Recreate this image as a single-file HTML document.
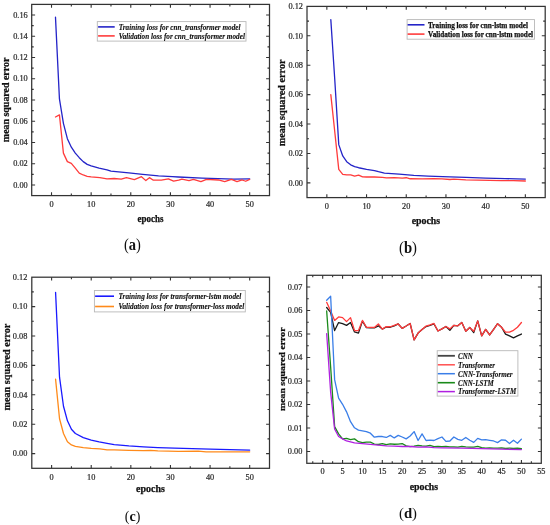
<!DOCTYPE html>
<html><head><meta charset="utf-8"><title>Loss curves</title>
<style>html,body{margin:0;padding:0;background:#fff;width:550px;height:525px;overflow:hidden} svg{display:block}</style>
</head><body>
<svg width="550" height="525" viewBox="0 0 550 525">
<style>text{font-family:"Liberation Serif", "Times New Roman", serif;fill:#222} .tl{fill:#2a2a2a;stroke:#2a2a2a;stroke-width:0.22px} .bt{font-weight:bold;fill:#111;stroke:#111;stroke-width:0.25px} .bi{font-weight:bold;font-style:italic;fill:#111;stroke:#111;stroke-width:0.12px} .pl{fill:#111} .pl tspan{font-weight:bold}</style>
<rect width="550" height="525" fill="#fff"/>
<path d="M51.52 195.60V192.20M51.52 4.40V7.80M71.33 195.60V193.60M71.33 4.40V6.40M91.15 195.60V192.20M91.15 4.40V7.80M110.97 195.60V193.60M110.97 4.40V6.40M130.78 195.60V192.20M130.78 4.40V7.80M150.60 195.60V193.60M150.60 4.40V6.40M170.42 195.60V192.20M170.42 4.40V7.80M190.23 195.60V193.60M190.23 4.40V6.40M210.05 195.60V192.20M210.05 4.40V7.80M229.87 195.60V193.60M229.87 4.40V6.40M249.68 195.60V192.20M249.68 4.40V7.80M31.70 184.98H35.10M269.50 184.98H266.10M31.70 174.36H33.70M269.50 174.36H267.50M31.70 163.73H35.10M269.50 163.73H266.10M31.70 153.11H33.70M269.50 153.11H267.50M31.70 142.49H35.10M269.50 142.49H266.10M31.70 131.87H33.70M269.50 131.87H267.50M31.70 121.24H35.10M269.50 121.24H266.10M31.70 110.62H33.70M269.50 110.62H267.50M31.70 100.00H35.10M269.50 100.00H266.10M31.70 89.38H33.70M269.50 89.38H267.50M31.70 78.76H35.10M269.50 78.76H266.10M31.70 68.13H33.70M269.50 68.13H267.50M31.70 57.51H35.10M269.50 57.51H266.10M31.70 46.89H33.70M269.50 46.89H267.50M31.70 36.27H35.10M269.50 36.27H266.10M31.70 25.64H33.70M269.50 25.64H267.50M31.70 15.02H35.10M269.50 15.02H266.10" stroke="#333" stroke-width="1.1" fill="none"/>
<rect x="31.70" y="4.40" width="237.80" height="191.20" fill="none" stroke="#333" stroke-width="1.25"/>
<text x="51.52" y="206.80" text-anchor="middle" class="tl" font-size="8.3">0</text>
<text x="91.15" y="206.80" text-anchor="middle" class="tl" font-size="8.3">10</text>
<text x="130.78" y="206.80" text-anchor="middle" class="tl" font-size="8.3">20</text>
<text x="170.42" y="206.80" text-anchor="middle" class="tl" font-size="8.3">30</text>
<text x="210.05" y="206.80" text-anchor="middle" class="tl" font-size="8.3">40</text>
<text x="249.68" y="206.80" text-anchor="middle" class="tl" font-size="8.3">50</text>
<text x="27.70" y="187.68" text-anchor="end" class="tl" font-size="8.3">0.00</text>
<text x="27.70" y="166.43" text-anchor="end" class="tl" font-size="8.3">0.02</text>
<text x="27.70" y="145.19" text-anchor="end" class="tl" font-size="8.3">0.04</text>
<text x="27.70" y="123.94" text-anchor="end" class="tl" font-size="8.3">0.06</text>
<text x="27.70" y="102.70" text-anchor="end" class="tl" font-size="8.3">0.08</text>
<text x="27.70" y="81.46" text-anchor="end" class="tl" font-size="8.3">0.10</text>
<text x="27.70" y="60.21" text-anchor="end" class="tl" font-size="8.3">0.12</text>
<text x="27.70" y="38.97" text-anchor="end" class="tl" font-size="8.3">0.14</text>
<text x="27.70" y="17.72" text-anchor="end" class="tl" font-size="8.3">0.16</text>
<polyline points="55.48,17.15 59.44,98.94 63.41,123.37 67.37,138.66 71.33,147.16 75.30,153.11 79.26,157.68 83.22,161.61 87.19,164.37 91.15,165.86 99.08,168.19 107.00,169.79 110.97,171.17 128.80,172.87 142.67,174.36 158.53,175.84 172.40,176.69 178.34,177.01 202.12,178.07 233.83,179.03 249.68,178.82" fill="none" stroke="#2424c8" stroke-width="1.3" stroke-linejoin="round" stroke-linecap="round"/>
<polyline points="55.48,117.00 59.44,114.87 63.41,153.11 67.37,161.61 71.33,163.41 75.30,168.19 79.26,173.08 83.22,174.99 87.19,176.27 91.15,176.90 99.87,177.65 107.00,178.82 114.14,178.50 121.27,179.14 126.42,177.65 134.35,179.56 141.48,176.69 145.84,180.62 149.41,177.65 153.37,180.20 161.30,180.20 168.43,178.82 173.59,181.05 178.74,180.20 181.91,179.03 189.04,180.52 193.40,179.35 200.93,181.68 206.48,179.35 218.37,179.99 224.71,181.68 231.45,179.35 237.00,181.68 242.15,179.99 245.72,181.26 249.68,179.35" fill="none" stroke="#ff3b3b" stroke-width="1.3" stroke-linejoin="round" stroke-linecap="round"/>
<rect x="97.30" y="21.60" width="148.70" height="19.50" fill="#fff" stroke="#b8b8b8" stroke-width="0.9"/>
<line x1="98.10" y1="26.90" x2="114.70" y2="26.90" stroke="#2424c8" stroke-width="1.6"/>
<text x="118.70" y="29.70" class="bi" font-size="7.4" text-anchor="start" textLength="121.80" lengthAdjust="spacingAndGlyphs">Training loss for cnn_transformer model</text>
<line x1="98.10" y1="35.90" x2="114.70" y2="35.90" stroke="#ff3b3b" stroke-width="1.6"/>
<text x="118.70" y="38.70" class="bi" font-size="7.4" text-anchor="start" textLength="126.20" lengthAdjust="spacingAndGlyphs">Validation loss for cnn_transformer model</text>
<text x="150.50" y="221.50" class="bt" font-size="9.4" text-anchor="middle" textLength="25.90" lengthAdjust="spacingAndGlyphs">epochs</text>
<text x="9.30" y="99.90" class="bt" font-size="9.3" text-anchor="middle" textLength="84.50" lengthAdjust="spacingAndGlyphs" transform="rotate(-90 9.30 99.90)">mean squared error</text>
<text x="124.00" y="249.80" class="pl" font-size="16" text-anchor="start" textLength="16.90" lengthAdjust="spacingAndGlyphs">(<tspan>a</tspan>)</text>
<path d="M326.85 197.60V194.20M326.85 6.40V9.80M346.70 197.60V195.60M346.70 6.40V8.40M366.55 197.60V194.20M366.55 6.40V9.80M386.40 197.60V195.60M386.40 6.40V8.40M406.25 197.60V194.20M406.25 6.40V9.80M426.10 197.60V195.60M426.10 6.40V8.40M445.95 197.60V194.20M445.95 6.40V9.80M465.80 197.60V195.60M465.80 6.40V8.40M485.65 197.60V194.20M485.65 6.40V9.80M505.50 197.60V195.60M505.50 6.40V8.40M525.35 197.60V194.20M525.35 6.40V9.80M307.00 182.89H310.40M545.20 182.89H541.80M307.00 168.18H309.00M545.20 168.18H543.20M307.00 153.48H310.40M545.20 153.48H541.80M307.00 138.77H309.00M545.20 138.77H543.20M307.00 124.06H310.40M545.20 124.06H541.80M307.00 109.35H309.00M545.20 109.35H543.20M307.00 94.65H310.40M545.20 94.65H541.80M307.00 79.94H309.00M545.20 79.94H543.20M307.00 65.23H310.40M545.20 65.23H541.80M307.00 50.52H309.00M545.20 50.52H543.20M307.00 35.82H310.40M545.20 35.82H541.80M307.00 21.11H309.00M545.20 21.11H543.20" stroke="#333" stroke-width="1.1" fill="none"/>
<rect x="307.00" y="6.40" width="238.20" height="191.20" fill="none" stroke="#333" stroke-width="1.25"/>
<text x="326.85" y="208.80" text-anchor="middle" class="tl" font-size="8.3">0</text>
<text x="366.55" y="208.80" text-anchor="middle" class="tl" font-size="8.3">10</text>
<text x="406.25" y="208.80" text-anchor="middle" class="tl" font-size="8.3">20</text>
<text x="445.95" y="208.80" text-anchor="middle" class="tl" font-size="8.3">30</text>
<text x="485.65" y="208.80" text-anchor="middle" class="tl" font-size="8.3">40</text>
<text x="525.35" y="208.80" text-anchor="middle" class="tl" font-size="8.3">50</text>
<text x="303.00" y="185.59" text-anchor="end" class="tl" font-size="8.3">0.00</text>
<text x="303.00" y="156.18" text-anchor="end" class="tl" font-size="8.3">0.02</text>
<text x="303.00" y="126.76" text-anchor="end" class="tl" font-size="8.3">0.04</text>
<text x="303.00" y="97.35" text-anchor="end" class="tl" font-size="8.3">0.06</text>
<text x="303.00" y="67.93" text-anchor="end" class="tl" font-size="8.3">0.08</text>
<text x="303.00" y="38.52" text-anchor="end" class="tl" font-size="8.3">0.10</text>
<text x="303.00" y="9.10" text-anchor="end" class="tl" font-size="8.3">0.12</text>
<polyline points="330.82,19.64 334.79,79.94 338.76,144.65 342.73,155.98 346.70,161.71 350.67,164.80 354.64,166.57 358.61,167.74 366.55,169.36 374.49,170.54 378.46,171.71 384.42,173.04 399.10,174.21 413.79,175.39 428.09,176.13 449.92,176.86 465.80,177.30 485.65,178.04 505.50,178.63 525.35,179.07" fill="none" stroke="#2424c8" stroke-width="1.3" stroke-linejoin="round" stroke-linecap="round"/>
<polyline points="330.82,94.65 334.79,132.00 338.76,169.36 342.73,174.36 346.70,174.95 350.67,174.80 354.64,176.13 358.61,175.10 362.58,176.86 366.55,177.01 374.49,177.01 382.43,177.45 386.40,177.89 394.34,177.60 402.28,178.04 406.25,177.74 410.22,178.77 422.13,178.92 434.04,178.63 441.98,178.92 449.92,179.51 453.89,179.22 465.80,179.80 477.71,180.10 489.62,180.39 501.53,180.54 513.44,180.69 525.35,180.98" fill="none" stroke="#ff3b3b" stroke-width="1.3" stroke-linejoin="round" stroke-linecap="round"/>
<rect x="407.10" y="19.60" width="127.40" height="19.60" fill="#fff" stroke="#b8b8b8" stroke-width="0.9"/>
<line x1="407.60" y1="24.80" x2="424.50" y2="24.80" stroke="#2424c8" stroke-width="1.6"/>
<text x="428.10" y="27.60" class="bt" font-size="7.3" text-anchor="start" textLength="99.90" lengthAdjust="spacingAndGlyphs">Training loss for cnn-lstm model</text>
<line x1="407.60" y1="34.10" x2="424.50" y2="34.10" stroke="#ff3b3b" stroke-width="1.6"/>
<text x="428.10" y="36.90" class="bt" font-size="7.3" text-anchor="start" textLength="105.00" lengthAdjust="spacingAndGlyphs">Validation loss for cnn-lstm model</text>
<text x="425.90" y="224.00" class="bt" font-size="9.6" text-anchor="middle" textLength="28.40" lengthAdjust="spacingAndGlyphs">epochs</text>
<text x="285.00" y="102.90" class="bt" font-size="9.4" text-anchor="middle" textLength="86.90" lengthAdjust="spacingAndGlyphs" transform="rotate(-90 285.00 102.90)">mean squared error</text>
<text x="399.00" y="252.60" class="pl" font-size="16" text-anchor="start" textLength="18.00" lengthAdjust="spacingAndGlyphs">(<tspan>b</tspan>)</text>
<path d="M51.61 468.30V464.90M51.61 277.20V280.60M71.42 468.30V466.30M71.42 277.20V279.20M91.22 468.30V464.90M91.22 277.20V280.60M111.03 468.30V466.30M111.03 277.20V279.20M130.84 468.30V464.90M130.84 277.20V280.60M150.65 468.30V466.30M150.65 277.20V279.20M170.46 468.30V464.90M170.46 277.20V280.60M190.27 468.30V466.30M190.27 277.20V279.20M210.07 468.30V464.90M210.07 277.20V280.60M229.88 468.30V466.30M229.88 277.20V279.20M249.69 468.30V464.90M249.69 277.20V280.60M31.80 453.60H35.20M269.50 453.60H266.10M31.80 438.90H33.80M269.50 438.90H267.50M31.80 424.20H35.20M269.50 424.20H266.10M31.80 409.50H33.80M269.50 409.50H267.50M31.80 394.80H35.20M269.50 394.80H266.10M31.80 380.10H33.80M269.50 380.10H267.50M31.80 365.40H35.20M269.50 365.40H266.10M31.80 350.70H33.80M269.50 350.70H267.50M31.80 336.00H35.20M269.50 336.00H266.10M31.80 321.30H33.80M269.50 321.30H267.50M31.80 306.60H35.20M269.50 306.60H266.10M31.80 291.90H33.80M269.50 291.90H267.50" stroke="#333" stroke-width="1.1" fill="none"/>
<rect x="31.80" y="277.20" width="237.70" height="191.10" fill="none" stroke="#333" stroke-width="1.25"/>
<text x="51.61" y="479.50" text-anchor="middle" class="tl" font-size="8.3">0</text>
<text x="91.22" y="479.50" text-anchor="middle" class="tl" font-size="8.3">10</text>
<text x="130.84" y="479.50" text-anchor="middle" class="tl" font-size="8.3">20</text>
<text x="170.46" y="479.50" text-anchor="middle" class="tl" font-size="8.3">30</text>
<text x="210.07" y="479.50" text-anchor="middle" class="tl" font-size="8.3">40</text>
<text x="249.69" y="479.50" text-anchor="middle" class="tl" font-size="8.3">50</text>
<text x="27.40" y="456.30" text-anchor="end" class="tl" font-size="8.3">0.00</text>
<text x="27.40" y="426.90" text-anchor="end" class="tl" font-size="8.3">0.02</text>
<text x="27.40" y="397.50" text-anchor="end" class="tl" font-size="8.3">0.04</text>
<text x="27.40" y="368.10" text-anchor="end" class="tl" font-size="8.3">0.06</text>
<text x="27.40" y="338.70" text-anchor="end" class="tl" font-size="8.3">0.08</text>
<text x="27.40" y="309.30" text-anchor="end" class="tl" font-size="8.3">0.10</text>
<text x="27.40" y="279.90" text-anchor="end" class="tl" font-size="8.3">0.12</text>
<polyline points="55.57,292.34 59.53,377.16 63.49,406.27 67.45,420.82 71.42,429.20 75.38,433.46 83.30,437.58 91.22,440.08 99.15,441.84 107.07,443.31 114.20,444.63 128.86,445.96 143.52,446.84 157.78,447.57 174.42,448.16 210.07,449.19 249.69,450.07" fill="none" stroke="#1a1aff" stroke-width="1.3" stroke-linejoin="round" stroke-linecap="round"/>
<polyline points="55.57,379.07 59.53,418.76 63.49,433.46 67.45,441.84 71.42,444.93 75.38,446.40 83.30,447.57 91.22,448.45 99.94,448.90 107.07,449.78 114.20,449.93 128.86,450.37 143.52,450.66 150.65,450.37 157.78,450.95 178.38,451.39 198.19,451.10 206.11,451.84 249.69,451.84" fill="none" stroke="#ff8a1a" stroke-width="1.3" stroke-linejoin="round" stroke-linecap="round"/>
<rect x="94.40" y="290.50" width="150.90" height="21.40" fill="#fff" stroke="#b8b8b8" stroke-width="0.9"/>
<line x1="95.10" y1="296.20" x2="114.00" y2="296.20" stroke="#1a1aff" stroke-width="1.6"/>
<text x="118.40" y="299.00" class="bi" font-size="7.4" text-anchor="start" textLength="122.90" lengthAdjust="spacingAndGlyphs">Training loss for transformer-lstm model</text>
<line x1="95.10" y1="306.50" x2="114.00" y2="306.50" stroke="#ff8a1a" stroke-width="1.6"/>
<text x="118.40" y="309.30" class="bi" font-size="7.4" text-anchor="start" textLength="125.80" lengthAdjust="spacingAndGlyphs">Validation loss for transformer-loss model</text>
<text x="150.50" y="492.00" class="bt" font-size="9.6" text-anchor="middle" textLength="28.80" lengthAdjust="spacingAndGlyphs">epochs</text>
<text x="9.90" y="367.10" class="bt" font-size="9.4" text-anchor="middle" textLength="86.90" lengthAdjust="spacingAndGlyphs" transform="rotate(-90 9.90 367.10)">mean squared error</text>
<text x="124.80" y="520.80" class="pl" font-size="15" text-anchor="start" textLength="15.60" lengthAdjust="spacingAndGlyphs">(<tspan>c</tspan>)</text>
<path d="M312.76 463.30V461.30M312.76 275.30V277.30M322.70 463.30V459.90M322.70 275.30V278.70M332.63 463.30V461.30M332.63 275.30V277.30M342.57 463.30V459.90M342.57 275.30V278.70M352.51 463.30V461.30M352.51 275.30V277.30M362.44 463.30V459.90M362.44 275.30V278.70M372.38 463.30V461.30M372.38 275.30V277.30M382.32 463.30V459.90M382.32 275.30V278.70M392.25 463.30V461.30M392.25 275.30V277.30M402.19 463.30V459.90M402.19 275.30V278.70M412.13 463.30V461.30M412.13 275.30V277.30M422.06 463.30V459.90M422.06 275.30V278.70M432.00 463.30V461.30M432.00 275.30V277.30M441.94 463.30V459.90M441.94 275.30V278.70M451.87 463.30V461.30M451.87 275.30V277.30M461.81 463.30V459.90M461.81 275.30V278.70M471.74 463.30V461.30M471.74 275.30V277.30M481.68 463.30V459.90M481.68 275.30V278.70M491.62 463.30V461.30M491.62 275.30V277.30M501.55 463.30V459.90M501.55 275.30V278.70M511.49 463.30V461.30M511.49 275.30V277.30M521.43 463.30V459.90M521.43 275.30V278.70M531.36 463.30V461.30M531.36 275.30V277.30M306.80 451.55H310.20M541.30 451.55H537.90M306.80 439.80H308.80M541.30 439.80H539.30M306.80 428.05H310.20M541.30 428.05H537.90M306.80 416.30H308.80M541.30 416.30H539.30M306.80 404.55H310.20M541.30 404.55H537.90M306.80 392.80H308.80M541.30 392.80H539.30M306.80 381.05H310.20M541.30 381.05H537.90M306.80 369.30H308.80M541.30 369.30H539.30M306.80 357.55H310.20M541.30 357.55H537.90M306.80 345.80H308.80M541.30 345.80H539.30M306.80 334.05H310.20M541.30 334.05H537.90M306.80 322.30H308.80M541.30 322.30H539.30M306.80 310.55H310.20M541.30 310.55H537.90M306.80 298.80H308.80M541.30 298.80H539.30M306.80 287.05H310.20M541.30 287.05H537.90" stroke="#333" stroke-width="1.1" fill="none"/>
<rect x="306.80" y="275.30" width="234.50" height="188.00" fill="none" stroke="#333" stroke-width="1.25"/>
<text x="322.70" y="474.20" text-anchor="middle" class="tl" font-size="8.3">0</text>
<text x="342.57" y="474.20" text-anchor="middle" class="tl" font-size="8.3">5</text>
<text x="362.44" y="474.20" text-anchor="middle" class="tl" font-size="8.3">10</text>
<text x="382.32" y="474.20" text-anchor="middle" class="tl" font-size="8.3">15</text>
<text x="402.19" y="474.20" text-anchor="middle" class="tl" font-size="8.3">20</text>
<text x="422.06" y="474.20" text-anchor="middle" class="tl" font-size="8.3">25</text>
<text x="441.94" y="474.20" text-anchor="middle" class="tl" font-size="8.3">30</text>
<text x="461.81" y="474.20" text-anchor="middle" class="tl" font-size="8.3">35</text>
<text x="481.68" y="474.20" text-anchor="middle" class="tl" font-size="8.3">40</text>
<text x="501.55" y="474.20" text-anchor="middle" class="tl" font-size="8.3">45</text>
<text x="521.43" y="474.20" text-anchor="middle" class="tl" font-size="8.3">50</text>
<text x="541.30" y="474.20" text-anchor="middle" class="tl" font-size="8.3">55</text>
<text x="302.30" y="454.25" text-anchor="end" class="tl" font-size="8.3">0.00</text>
<text x="302.30" y="430.75" text-anchor="end" class="tl" font-size="8.3">0.01</text>
<text x="302.30" y="407.25" text-anchor="end" class="tl" font-size="8.3">0.02</text>
<text x="302.30" y="383.75" text-anchor="end" class="tl" font-size="8.3">0.03</text>
<text x="302.30" y="360.25" text-anchor="end" class="tl" font-size="8.3">0.04</text>
<text x="302.30" y="336.75" text-anchor="end" class="tl" font-size="8.3">0.05</text>
<text x="302.30" y="313.25" text-anchor="end" class="tl" font-size="8.3">0.06</text>
<text x="302.30" y="289.75" text-anchor="end" class="tl" font-size="8.3">0.07</text>
<polyline points="326.67,307.50 330.65,312.43 334.62,330.53 338.60,322.54 342.57,323.71 346.55,325.36 350.52,322.54 354.49,331.94 358.47,333.11 362.44,321.12 366.42,327.71 370.39,327.94 374.37,327.94 378.34,325.83 382.32,329.12 386.29,327.00 390.27,327.24 394.24,325.83 398.22,323.95 402.19,328.41 406.16,326.06 410.14,323.48 414.11,339.93 418.09,333.11 422.06,329.59 426.04,326.53 430.01,325.36 433.99,323.95 437.96,331.00 441.94,328.88 445.91,326.53 449.88,330.29 453.86,325.36 457.83,325.83 461.81,322.54 465.78,331.23 469.76,327.47 473.73,332.64 477.71,320.89 481.68,335.93 485.66,329.35 489.63,334.99 493.61,329.35 497.58,323.71 501.55,327.24 505.53,334.05 509.50,335.93 513.48,337.81 517.45,335.93 521.43,334.05" fill="none" stroke="#1a1a1a" stroke-width="1.3" stroke-linejoin="round" stroke-linecap="round"/>
<polyline points="326.67,302.32 330.65,311.02 334.62,320.42 338.60,316.89 342.57,317.60 346.55,321.60 350.52,317.60 354.49,330.53 358.47,330.53 362.44,320.42 366.42,327.24 370.39,327.47 374.37,327.47 378.34,323.95 382.32,329.12 386.29,326.53 390.27,326.76 394.24,325.36 398.22,323.95 402.19,328.41 406.16,326.06 410.14,323.48 414.11,339.93 418.09,333.11 422.06,329.59 426.04,326.06 430.01,324.88 433.99,323.48 437.96,331.00 441.94,328.88 445.91,326.53 449.88,328.88 453.86,325.36 457.83,325.83 461.81,322.54 465.78,331.23 469.76,327.47 473.73,331.23 477.71,320.89 481.68,335.93 485.66,329.35 489.63,334.99 493.61,329.35 497.58,323.71 501.55,327.24 505.53,332.17 509.50,332.17 513.48,330.29 517.45,327.24 521.43,322.54" fill="none" stroke="#ff3b3b" stroke-width="1.3" stroke-linejoin="round" stroke-linecap="round"/>
<polyline points="326.67,300.21 330.65,296.21 334.62,379.64 338.60,398.21 342.57,404.31 346.55,411.84 350.52,421.71 354.49,427.81 358.47,430.17 362.44,430.87 366.42,431.57 370.39,433.22 374.37,437.22 378.34,436.51 382.32,436.51 386.29,437.45 390.27,435.34 394.24,437.92 398.22,435.34 402.19,436.98 406.16,438.86 410.14,436.04 414.11,431.57 418.09,440.50 422.06,433.93 426.04,440.50 430.01,440.04 433.99,440.50 437.96,438.62 441.94,436.98 445.91,441.44 449.88,440.98 453.86,436.98 457.83,439.33 461.81,440.27 465.78,437.45 469.76,440.27 473.73,442.38 477.71,438.39 481.68,439.80 485.66,439.56 489.63,440.27 493.61,440.98 497.58,442.62 501.55,439.80 505.53,440.27 509.50,443.56 513.48,440.27 517.45,443.32 521.43,439.10" fill="none" stroke="#3a7ee8" stroke-width="1.3" stroke-linejoin="round" stroke-linecap="round"/>
<polyline points="326.67,311.02 330.65,366.95 334.62,426.64 338.60,433.93 342.57,438.86 346.55,438.39 350.52,439.56 354.49,438.86 358.47,441.68 362.44,442.62 366.42,442.15 370.39,442.15 374.37,444.03 378.34,444.50 382.32,443.56 386.29,444.74 390.27,443.80 394.24,444.26 398.22,444.03 402.19,443.56 406.16,445.91 410.14,446.62 414.11,446.14 418.09,445.44 422.06,445.91 426.04,446.14 430.01,445.44 433.99,446.62 437.96,446.38 441.94,446.62 445.91,446.38 449.88,446.85 453.86,446.85 457.83,447.09 461.81,446.38 465.78,446.85 469.76,447.09 473.73,447.09 477.71,446.38 481.68,447.56 485.66,448.03 489.63,447.79 493.61,448.03 497.58,448.03 501.55,447.79 505.53,448.50 509.50,448.03 513.48,448.50 517.45,448.03 521.43,448.73" fill="none" stroke="#1a8a1a" stroke-width="1.3" stroke-linejoin="round" stroke-linecap="round"/>
<polyline points="326.67,333.58 330.65,392.10 334.62,428.99 338.60,436.51 342.57,438.86 346.55,440.98 350.52,441.92 354.49,442.97 362.44,443.68 370.39,444.38 378.34,445.09 386.29,445.79 394.24,446.03 402.19,446.50 410.14,446.50 418.09,447.20 426.04,446.97 433.99,447.67 441.94,447.91 461.81,448.14 481.68,448.61 501.55,449.08 521.43,449.55" fill="none" stroke="#b020e0" stroke-width="1.3" stroke-linejoin="round" stroke-linecap="round"/>
<rect x="437.20" y="350.70" width="80.70" height="45.40" fill="#fff" stroke="#b8b8b8" stroke-width="0.9"/>
<line x1="437.80" y1="355.80" x2="454.90" y2="355.80" stroke="#444" stroke-width="1.8"/>
<text x="458.10" y="358.60" class="bi" font-size="7.3" text-anchor="start" textLength="14.80" lengthAdjust="spacingAndGlyphs">CNN</text>
<line x1="437.80" y1="364.80" x2="454.90" y2="364.80" stroke="#ff5050" stroke-width="1.5"/>
<text x="458.10" y="367.60" class="bi" font-size="7.3" text-anchor="start" textLength="37.00" lengthAdjust="spacingAndGlyphs">Transformer</text>
<line x1="437.80" y1="373.70" x2="454.90" y2="373.70" stroke="#3a7ee8" stroke-width="1.5"/>
<text x="458.10" y="376.50" class="bi" font-size="7.3" text-anchor="start" textLength="54.50" lengthAdjust="spacingAndGlyphs">CNN-Transformer</text>
<line x1="437.80" y1="382.70" x2="454.90" y2="382.70" stroke="#1a8a1a" stroke-width="1.6"/>
<text x="458.10" y="385.50" class="bi" font-size="7.3" text-anchor="start" textLength="35.70" lengthAdjust="spacingAndGlyphs">CNN-LSTM</text>
<line x1="437.80" y1="391.60" x2="454.90" y2="391.60" stroke="#b020e0" stroke-width="1.5"/>
<text x="458.10" y="394.40" class="bi" font-size="7.3" text-anchor="start" textLength="58.10" lengthAdjust="spacingAndGlyphs">Transformer-LSTM</text>
<text x="423.90" y="489.50" class="bt" font-size="9.6" text-anchor="middle" textLength="28.40" lengthAdjust="spacingAndGlyphs">epochs</text>
<text x="284.90" y="369.20" class="bt" font-size="9.2" text-anchor="middle" textLength="83.50" lengthAdjust="spacingAndGlyphs" transform="rotate(-90 284.90 369.20)">mean squared error</text>
<text x="399.00" y="518.30" class="pl" font-size="15.2" text-anchor="start" textLength="18.00" lengthAdjust="spacingAndGlyphs">(<tspan>d</tspan>)</text>
</svg>
</body></html>
